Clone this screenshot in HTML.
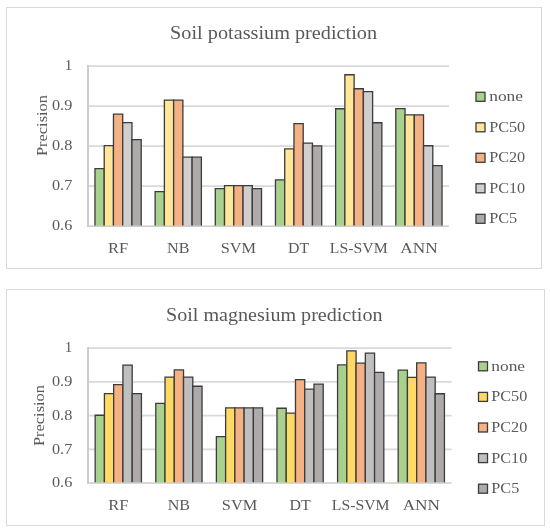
<!DOCTYPE html>
<html><head><meta charset="utf-8"><title>Soil prediction charts</title>
<style>
html,body{margin:0;padding:0;background:#fff;width:550px;height:532px;overflow:hidden}
svg{display:block}
text{font-family:'Liberation Serif', serif;fill:#595959}
</style></head><body>
<svg width="550" height="532" viewBox="0 0 550 532">
<rect width="550" height="532" fill="#fff"/>
<rect x="6.5" y="7.5" width="535" height="261" fill="#fff" stroke="#D9D9D9" stroke-width="1"/>
<line x1="88" y1="186.15" x2="449" y2="186.15" stroke="#D9D9D9" stroke-width="1.6"/>
<line x1="88" y1="146.15" x2="449" y2="146.15" stroke="#D9D9D9" stroke-width="1.6"/>
<line x1="88" y1="106.15" x2="449" y2="106.15" stroke="#D9D9D9" stroke-width="1.6"/>
<line x1="88" y1="66.15" x2="449" y2="66.15" stroke="#D9D9D9" stroke-width="1.6"/>
<rect x="94.96" y="168.55" width="9.25" height="57.45" fill="#A9D18E"/>
<path d="M94.96 226.00V168.55H104.21V226.00" fill="none" stroke="#3D3B3B" stroke-width="1.3"/>
<rect x="104.21" y="145.55" width="9.25" height="80.45" fill="#FFE699"/>
<path d="M104.21 226.00V145.55H113.46V226.00" fill="none" stroke="#3D3B3B" stroke-width="1.3"/>
<rect x="113.46" y="114.15" width="9.25" height="111.85" fill="#F4B183"/>
<path d="M113.46 226.00V114.15H122.71V226.00" fill="none" stroke="#3D3B3B" stroke-width="1.3"/>
<rect x="122.71" y="122.55" width="9.25" height="103.45" fill="#D0CECE"/>
<path d="M122.71 226.00V122.55H131.96V226.00" fill="none" stroke="#3D3B3B" stroke-width="1.3"/>
<rect x="131.96" y="139.65" width="9.25" height="86.35" fill="#AEAAAA"/>
<path d="M131.96 226.00V139.65H141.21V226.00" fill="none" stroke="#3D3B3B" stroke-width="1.3"/>
<rect x="155.12" y="191.55" width="9.25" height="34.45" fill="#A9D18E"/>
<path d="M155.12 226.00V191.55H164.38V226.00" fill="none" stroke="#3D3B3B" stroke-width="1.3"/>
<rect x="164.38" y="100.05" width="9.25" height="125.95" fill="#FFE699"/>
<path d="M164.38 226.00V100.05H173.62V226.00" fill="none" stroke="#3D3B3B" stroke-width="1.3"/>
<rect x="173.62" y="100.05" width="9.25" height="125.95" fill="#F4B183"/>
<path d="M173.62 226.00V100.05H182.88V226.00" fill="none" stroke="#3D3B3B" stroke-width="1.3"/>
<rect x="182.88" y="157.15" width="9.25" height="68.85" fill="#D0CECE"/>
<path d="M182.88 226.00V157.15H192.12V226.00" fill="none" stroke="#3D3B3B" stroke-width="1.3"/>
<rect x="192.12" y="157.15" width="9.25" height="68.85" fill="#AEAAAA"/>
<path d="M192.12 226.00V157.15H201.38V226.00" fill="none" stroke="#3D3B3B" stroke-width="1.3"/>
<rect x="215.29" y="188.55" width="9.25" height="37.45" fill="#A9D18E"/>
<path d="M215.29 226.00V188.55H224.54V226.00" fill="none" stroke="#3D3B3B" stroke-width="1.3"/>
<rect x="224.54" y="185.65" width="9.25" height="40.35" fill="#FFE699"/>
<path d="M224.54 226.00V185.65H233.79V226.00" fill="none" stroke="#3D3B3B" stroke-width="1.3"/>
<rect x="233.79" y="185.65" width="9.25" height="40.35" fill="#F4B183"/>
<path d="M233.79 226.00V185.65H243.04V226.00" fill="none" stroke="#3D3B3B" stroke-width="1.3"/>
<rect x="243.04" y="185.65" width="9.25" height="40.35" fill="#D0CECE"/>
<path d="M243.04 226.00V185.65H252.29V226.00" fill="none" stroke="#3D3B3B" stroke-width="1.3"/>
<rect x="252.29" y="188.55" width="9.25" height="37.45" fill="#AEAAAA"/>
<path d="M252.29 226.00V188.55H261.54V226.00" fill="none" stroke="#3D3B3B" stroke-width="1.3"/>
<rect x="275.46" y="179.95" width="9.25" height="46.05" fill="#A9D18E"/>
<path d="M275.46 226.00V179.95H284.71V226.00" fill="none" stroke="#3D3B3B" stroke-width="1.3"/>
<rect x="284.71" y="148.85" width="9.25" height="77.15" fill="#FFE699"/>
<path d="M284.71 226.00V148.85H293.96V226.00" fill="none" stroke="#3D3B3B" stroke-width="1.3"/>
<rect x="293.96" y="123.55" width="9.25" height="102.45" fill="#F4B183"/>
<path d="M293.96 226.00V123.55H303.21V226.00" fill="none" stroke="#3D3B3B" stroke-width="1.3"/>
<rect x="303.21" y="143.15" width="9.25" height="82.85" fill="#D0CECE"/>
<path d="M303.21 226.00V143.15H312.46V226.00" fill="none" stroke="#3D3B3B" stroke-width="1.3"/>
<rect x="312.46" y="145.95" width="9.25" height="80.05" fill="#AEAAAA"/>
<path d="M312.46 226.00V145.95H321.71V226.00" fill="none" stroke="#3D3B3B" stroke-width="1.3"/>
<rect x="335.62" y="108.75" width="9.25" height="117.25" fill="#A9D18E"/>
<path d="M335.62 226.00V108.75H344.87V226.00" fill="none" stroke="#3D3B3B" stroke-width="1.3"/>
<rect x="344.87" y="74.75" width="9.25" height="151.25" fill="#FFE699"/>
<path d="M344.87 226.00V74.75H354.12V226.00" fill="none" stroke="#3D3B3B" stroke-width="1.3"/>
<rect x="354.12" y="88.75" width="9.25" height="137.25" fill="#F4B183"/>
<path d="M354.12 226.00V88.75H363.37V226.00" fill="none" stroke="#3D3B3B" stroke-width="1.3"/>
<rect x="363.37" y="91.65" width="9.25" height="134.35" fill="#D0CECE"/>
<path d="M363.37 226.00V91.65H372.62V226.00" fill="none" stroke="#3D3B3B" stroke-width="1.3"/>
<rect x="372.62" y="122.75" width="9.25" height="103.25" fill="#AEAAAA"/>
<path d="M372.62 226.00V122.75H381.87V226.00" fill="none" stroke="#3D3B3B" stroke-width="1.3"/>
<rect x="395.79" y="108.65" width="9.25" height="117.35" fill="#A9D18E"/>
<path d="M395.79 226.00V108.65H405.04V226.00" fill="none" stroke="#3D3B3B" stroke-width="1.3"/>
<rect x="405.04" y="114.85" width="9.25" height="111.15" fill="#FFE699"/>
<path d="M405.04 226.00V114.85H414.29V226.00" fill="none" stroke="#3D3B3B" stroke-width="1.3"/>
<rect x="414.29" y="114.85" width="9.25" height="111.15" fill="#F4B183"/>
<path d="M414.29 226.00V114.85H423.54V226.00" fill="none" stroke="#3D3B3B" stroke-width="1.3"/>
<rect x="423.54" y="145.75" width="9.25" height="80.25" fill="#D0CECE"/>
<path d="M423.54 226.00V145.75H432.79V226.00" fill="none" stroke="#3D3B3B" stroke-width="1.3"/>
<rect x="432.79" y="165.55" width="9.25" height="60.45" fill="#AEAAAA"/>
<path d="M432.79 226.00V165.55H442.04V226.00" fill="none" stroke="#3D3B3B" stroke-width="1.3"/>
<line x1="88" y1="65.00" x2="88" y2="227.00" stroke="#CCCCCC" stroke-width="2"/>
<line x1="88" y1="226.30" x2="449" y2="226.30" stroke="#CCCCCC" stroke-width="1.4"/>
<text x="72.3" y="230.40" text-anchor="end" font-size="15" textLength="20.3" lengthAdjust="spacingAndGlyphs">0.6</text>
<text x="72.3" y="190.40" text-anchor="end" font-size="15" textLength="20.3" lengthAdjust="spacingAndGlyphs">0.7</text>
<text x="72.3" y="150.40" text-anchor="end" font-size="15" textLength="20.3" lengthAdjust="spacingAndGlyphs">0.8</text>
<text x="72.3" y="110.40" text-anchor="end" font-size="15" textLength="20.3" lengthAdjust="spacingAndGlyphs">0.9</text>
<text x="72.3" y="70.40" text-anchor="end" font-size="15">1</text>
<text x="118.08" y="253.2" text-anchor="middle" font-size="15" textLength="20.2" lengthAdjust="spacingAndGlyphs">RF</text>
<text x="178.25" y="253.2" text-anchor="middle" font-size="15" textLength="22.3" lengthAdjust="spacingAndGlyphs">NB</text>
<text x="238.42" y="253.2" text-anchor="middle" font-size="15" textLength="35.4" lengthAdjust="spacingAndGlyphs">SVM</text>
<text x="298.58" y="253.2" text-anchor="middle" font-size="15" textLength="21.2" lengthAdjust="spacingAndGlyphs">DT</text>
<text x="358.75" y="253.2" text-anchor="middle" font-size="15" textLength="57.8" lengthAdjust="spacingAndGlyphs">LS-SVM</text>
<text x="418.92" y="253.2" text-anchor="middle" font-size="15" textLength="37.3" lengthAdjust="spacingAndGlyphs">ANN</text>
<text x="273.6" y="39.2" text-anchor="middle" font-size="19.5" textLength="207" lengthAdjust="spacingAndGlyphs">Soil potassium prediction</text>
<text x="47.1" y="125.5" text-anchor="middle" font-size="15" transform="rotate(-90 47.1 125.5)" textLength="61" lengthAdjust="spacingAndGlyphs">Precision</text>
<rect x="476.0" y="92.30" width="9" height="9" fill="#A9D18E" stroke="#3D3B3B" stroke-width="1.3"/>
<text x="489.2" y="101.30" font-size="15" textLength="33.8" lengthAdjust="spacingAndGlyphs">none</text>
<rect x="476.0" y="122.80" width="9" height="9" fill="#FFE699" stroke="#3D3B3B" stroke-width="1.3"/>
<text x="489.2" y="131.80" font-size="15" textLength="36" lengthAdjust="spacingAndGlyphs">PC50</text>
<rect x="476.0" y="153.30" width="9" height="9" fill="#F4B183" stroke="#3D3B3B" stroke-width="1.3"/>
<text x="489.2" y="162.30" font-size="15" textLength="36" lengthAdjust="spacingAndGlyphs">PC20</text>
<rect x="476.0" y="183.80" width="9" height="9" fill="#D0CECE" stroke="#3D3B3B" stroke-width="1.3"/>
<text x="489.2" y="192.80" font-size="15" textLength="36" lengthAdjust="spacingAndGlyphs">PC10</text>
<rect x="476.0" y="214.30" width="9" height="9" fill="#AEAAAA" stroke="#3D3B3B" stroke-width="1.3"/>
<text x="489.2" y="223.30" font-size="15" textLength="28" lengthAdjust="spacingAndGlyphs">PC5</text>
<rect x="6.5" y="289.5" width="538" height="236" fill="#fff" stroke="#D9D9D9" stroke-width="1"/>
<line x1="88" y1="449.40" x2="451.6" y2="449.40" stroke="#D9D9D9" stroke-width="1.6"/>
<line x1="88" y1="415.65" x2="451.6" y2="415.65" stroke="#D9D9D9" stroke-width="1.6"/>
<line x1="88" y1="381.90" x2="451.6" y2="381.90" stroke="#D9D9D9" stroke-width="1.6"/>
<line x1="88" y1="348.15" x2="451.6" y2="348.15" stroke="#D9D9D9" stroke-width="1.6"/>
<rect x="95.17" y="415.25" width="9.25" height="67.75" fill="#A9D18E"/>
<path d="M95.17 483.00V415.25H104.42V483.00" fill="none" stroke="#3D3B3B" stroke-width="1.3"/>
<rect x="104.42" y="393.55" width="9.25" height="89.45" fill="#FFD966"/>
<path d="M104.42 483.00V393.55H113.67V483.00" fill="none" stroke="#3D3B3B" stroke-width="1.3"/>
<rect x="113.67" y="384.55" width="9.25" height="98.45" fill="#F4B183"/>
<path d="M113.67 483.00V384.55H122.92V483.00" fill="none" stroke="#3D3B3B" stroke-width="1.3"/>
<rect x="122.92" y="365.05" width="9.25" height="117.95" fill="#BFBFBF"/>
<path d="M122.92 483.00V365.05H132.18V483.00" fill="none" stroke="#3D3B3B" stroke-width="1.3"/>
<rect x="132.18" y="393.55" width="9.25" height="89.45" fill="#AEAAAA"/>
<path d="M132.18 483.00V393.55H141.43V483.00" fill="none" stroke="#3D3B3B" stroke-width="1.3"/>
<rect x="155.78" y="403.35" width="9.25" height="79.65" fill="#A9D18E"/>
<path d="M155.78 483.00V403.35H165.03V483.00" fill="none" stroke="#3D3B3B" stroke-width="1.3"/>
<rect x="165.03" y="377.05" width="9.25" height="105.95" fill="#FFD966"/>
<path d="M165.03 483.00V377.05H174.28V483.00" fill="none" stroke="#3D3B3B" stroke-width="1.3"/>
<rect x="174.28" y="369.85" width="9.25" height="113.15" fill="#F4B183"/>
<path d="M174.28 483.00V369.85H183.53V483.00" fill="none" stroke="#3D3B3B" stroke-width="1.3"/>
<rect x="183.53" y="377.05" width="9.25" height="105.95" fill="#BFBFBF"/>
<path d="M183.53 483.00V377.05H192.78V483.00" fill="none" stroke="#3D3B3B" stroke-width="1.3"/>
<rect x="192.78" y="386.25" width="9.25" height="96.75" fill="#AEAAAA"/>
<path d="M192.78 483.00V386.25H202.03V483.00" fill="none" stroke="#3D3B3B" stroke-width="1.3"/>
<rect x="216.38" y="436.65" width="9.25" height="46.35" fill="#A9D18E"/>
<path d="M216.38 483.00V436.65H225.62V483.00" fill="none" stroke="#3D3B3B" stroke-width="1.3"/>
<rect x="225.62" y="407.95" width="9.25" height="75.05" fill="#FFD966"/>
<path d="M225.62 483.00V407.95H234.88V483.00" fill="none" stroke="#3D3B3B" stroke-width="1.3"/>
<rect x="234.88" y="407.95" width="9.25" height="75.05" fill="#F4B183"/>
<path d="M234.88 483.00V407.95H244.12V483.00" fill="none" stroke="#3D3B3B" stroke-width="1.3"/>
<rect x="244.12" y="407.95" width="9.25" height="75.05" fill="#BFBFBF"/>
<path d="M244.12 483.00V407.95H253.38V483.00" fill="none" stroke="#3D3B3B" stroke-width="1.3"/>
<rect x="253.38" y="407.95" width="9.25" height="75.05" fill="#AEAAAA"/>
<path d="M253.38 483.00V407.95H262.62V483.00" fill="none" stroke="#3D3B3B" stroke-width="1.3"/>
<rect x="276.98" y="408.25" width="9.25" height="74.75" fill="#A9D18E"/>
<path d="M276.98 483.00V408.25H286.23V483.00" fill="none" stroke="#3D3B3B" stroke-width="1.3"/>
<rect x="286.23" y="413.15" width="9.25" height="69.85" fill="#FFD966"/>
<path d="M286.23 483.00V413.15H295.48V483.00" fill="none" stroke="#3D3B3B" stroke-width="1.3"/>
<rect x="295.48" y="379.55" width="9.25" height="103.45" fill="#F4B183"/>
<path d="M295.48 483.00V379.55H304.73V483.00" fill="none" stroke="#3D3B3B" stroke-width="1.3"/>
<rect x="304.73" y="389.15" width="9.25" height="93.85" fill="#BFBFBF"/>
<path d="M304.73 483.00V389.15H313.98V483.00" fill="none" stroke="#3D3B3B" stroke-width="1.3"/>
<rect x="313.98" y="384.15" width="9.25" height="98.85" fill="#AEAAAA"/>
<path d="M313.98 483.00V384.15H323.23V483.00" fill="none" stroke="#3D3B3B" stroke-width="1.3"/>
<rect x="337.57" y="364.95" width="9.25" height="118.05" fill="#A9D18E"/>
<path d="M337.57 483.00V364.95H346.82V483.00" fill="none" stroke="#3D3B3B" stroke-width="1.3"/>
<rect x="346.82" y="350.85" width="9.25" height="132.15" fill="#FFD966"/>
<path d="M346.82 483.00V350.85H356.07V483.00" fill="none" stroke="#3D3B3B" stroke-width="1.3"/>
<rect x="356.07" y="363.15" width="9.25" height="119.85" fill="#F4B183"/>
<path d="M356.07 483.00V363.15H365.32V483.00" fill="none" stroke="#3D3B3B" stroke-width="1.3"/>
<rect x="365.32" y="353.15" width="9.25" height="129.85" fill="#BFBFBF"/>
<path d="M365.32 483.00V353.15H374.57V483.00" fill="none" stroke="#3D3B3B" stroke-width="1.3"/>
<rect x="374.57" y="372.35" width="9.25" height="110.65" fill="#AEAAAA"/>
<path d="M374.57 483.00V372.35H383.82V483.00" fill="none" stroke="#3D3B3B" stroke-width="1.3"/>
<rect x="398.18" y="370.05" width="9.25" height="112.95" fill="#A9D18E"/>
<path d="M398.18 483.00V370.05H407.43V483.00" fill="none" stroke="#3D3B3B" stroke-width="1.3"/>
<rect x="407.43" y="377.35" width="9.25" height="105.65" fill="#FFD966"/>
<path d="M407.43 483.00V377.35H416.68V483.00" fill="none" stroke="#3D3B3B" stroke-width="1.3"/>
<rect x="416.68" y="362.85" width="9.25" height="120.15" fill="#F4B183"/>
<path d="M416.68 483.00V362.85H425.93V483.00" fill="none" stroke="#3D3B3B" stroke-width="1.3"/>
<rect x="425.93" y="377.05" width="9.25" height="105.95" fill="#BFBFBF"/>
<path d="M425.93 483.00V377.05H435.18V483.00" fill="none" stroke="#3D3B3B" stroke-width="1.3"/>
<rect x="435.18" y="393.75" width="9.25" height="89.25" fill="#AEAAAA"/>
<path d="M435.18 483.00V393.75H444.43V483.00" fill="none" stroke="#3D3B3B" stroke-width="1.3"/>
<line x1="88" y1="347.00" x2="88" y2="483.70" stroke="#CCCCCC" stroke-width="2"/>
<line x1="88" y1="483.00" x2="451.6" y2="483.00" stroke="#CCCCCC" stroke-width="1.4"/>
<text x="72.3" y="487.40" text-anchor="end" font-size="15" textLength="20.3" lengthAdjust="spacingAndGlyphs">0.6</text>
<text x="72.3" y="453.65" text-anchor="end" font-size="15" textLength="20.3" lengthAdjust="spacingAndGlyphs">0.7</text>
<text x="72.3" y="419.90" text-anchor="end" font-size="15" textLength="20.3" lengthAdjust="spacingAndGlyphs">0.8</text>
<text x="72.3" y="386.15" text-anchor="end" font-size="15" textLength="20.3" lengthAdjust="spacingAndGlyphs">0.9</text>
<text x="72.3" y="352.40" text-anchor="end" font-size="15">1</text>
<text x="118.30" y="509.5" text-anchor="middle" font-size="15" textLength="20.2" lengthAdjust="spacingAndGlyphs">RF</text>
<text x="178.90" y="509.5" text-anchor="middle" font-size="15" textLength="22.3" lengthAdjust="spacingAndGlyphs">NB</text>
<text x="239.50" y="509.5" text-anchor="middle" font-size="15" textLength="35.4" lengthAdjust="spacingAndGlyphs">SVM</text>
<text x="300.10" y="509.5" text-anchor="middle" font-size="15" textLength="21.2" lengthAdjust="spacingAndGlyphs">DT</text>
<text x="360.70" y="509.5" text-anchor="middle" font-size="15" textLength="57.8" lengthAdjust="spacingAndGlyphs">LS-SVM</text>
<text x="421.30" y="509.5" text-anchor="middle" font-size="15" textLength="37.3" lengthAdjust="spacingAndGlyphs">ANN</text>
<text x="274.3" y="321.3" text-anchor="middle" font-size="19.5" textLength="216.5" lengthAdjust="spacingAndGlyphs">Soil magnesium prediction</text>
<text x="44.1" y="415.5" text-anchor="middle" font-size="15" transform="rotate(-90 44.1 415.5)" textLength="61" lengthAdjust="spacingAndGlyphs">Precision</text>
<rect x="478.5" y="361.80" width="9" height="9" fill="#A9D18E" stroke="#3D3B3B" stroke-width="1.3"/>
<text x="491.3" y="370.80" font-size="15" textLength="33.8" lengthAdjust="spacingAndGlyphs">none</text>
<rect x="478.5" y="392.40" width="9" height="9" fill="#FFD966" stroke="#3D3B3B" stroke-width="1.3"/>
<text x="491.3" y="401.40" font-size="15" textLength="36" lengthAdjust="spacingAndGlyphs">PC50</text>
<rect x="478.5" y="423.00" width="9" height="9" fill="#F4B183" stroke="#3D3B3B" stroke-width="1.3"/>
<text x="491.3" y="432.00" font-size="15" textLength="36" lengthAdjust="spacingAndGlyphs">PC20</text>
<rect x="478.5" y="453.60" width="9" height="9" fill="#BFBFBF" stroke="#3D3B3B" stroke-width="1.3"/>
<text x="491.3" y="462.60" font-size="15" textLength="36" lengthAdjust="spacingAndGlyphs">PC10</text>
<rect x="478.5" y="484.20" width="9" height="9" fill="#AEAAAA" stroke="#3D3B3B" stroke-width="1.3"/>
<text x="491.3" y="493.20" font-size="15" textLength="28" lengthAdjust="spacingAndGlyphs">PC5</text>
</svg>
</body></html>
